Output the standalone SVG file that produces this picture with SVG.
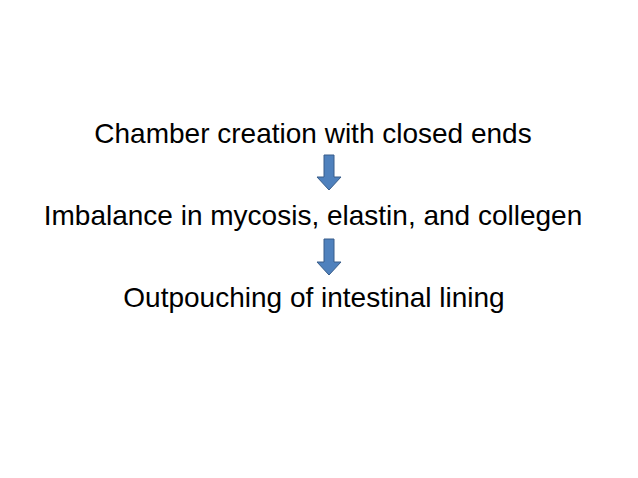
<svg xmlns="http://www.w3.org/2000/svg" width="638" height="478" viewBox="0 0 638 478">
<defs>
<style>
.t{font-family:"Liberation Sans",Arial,sans-serif;font-size:28px;fill:#000;text-anchor:middle}
.a{fill:#4f81bd;stroke:#385d8a;stroke-width:1}
</style>
</defs>
<rect width="638" height="478" fill="#fff"/>
<g id="n1"><text class="t" x="313" y="143">Chamber creation with closed ends</text></g>
<g id="n2"><text class="t" x="313" y="225">Imbalance in mycosis, elastin, and collegen</text></g>
<g id="n3"><text class="t" x="314" y="307">Outpouching of intestinal lining</text></g>
<g id="connectors">
<path class="a" d="M324,155 H334 V177 H341 L329,190 L317,177 H324 Z"/>
<path class="a" d="M324,239 H334 V262 H341 L329,275 L317,262 H324 Z"/>
</g>
</svg>
